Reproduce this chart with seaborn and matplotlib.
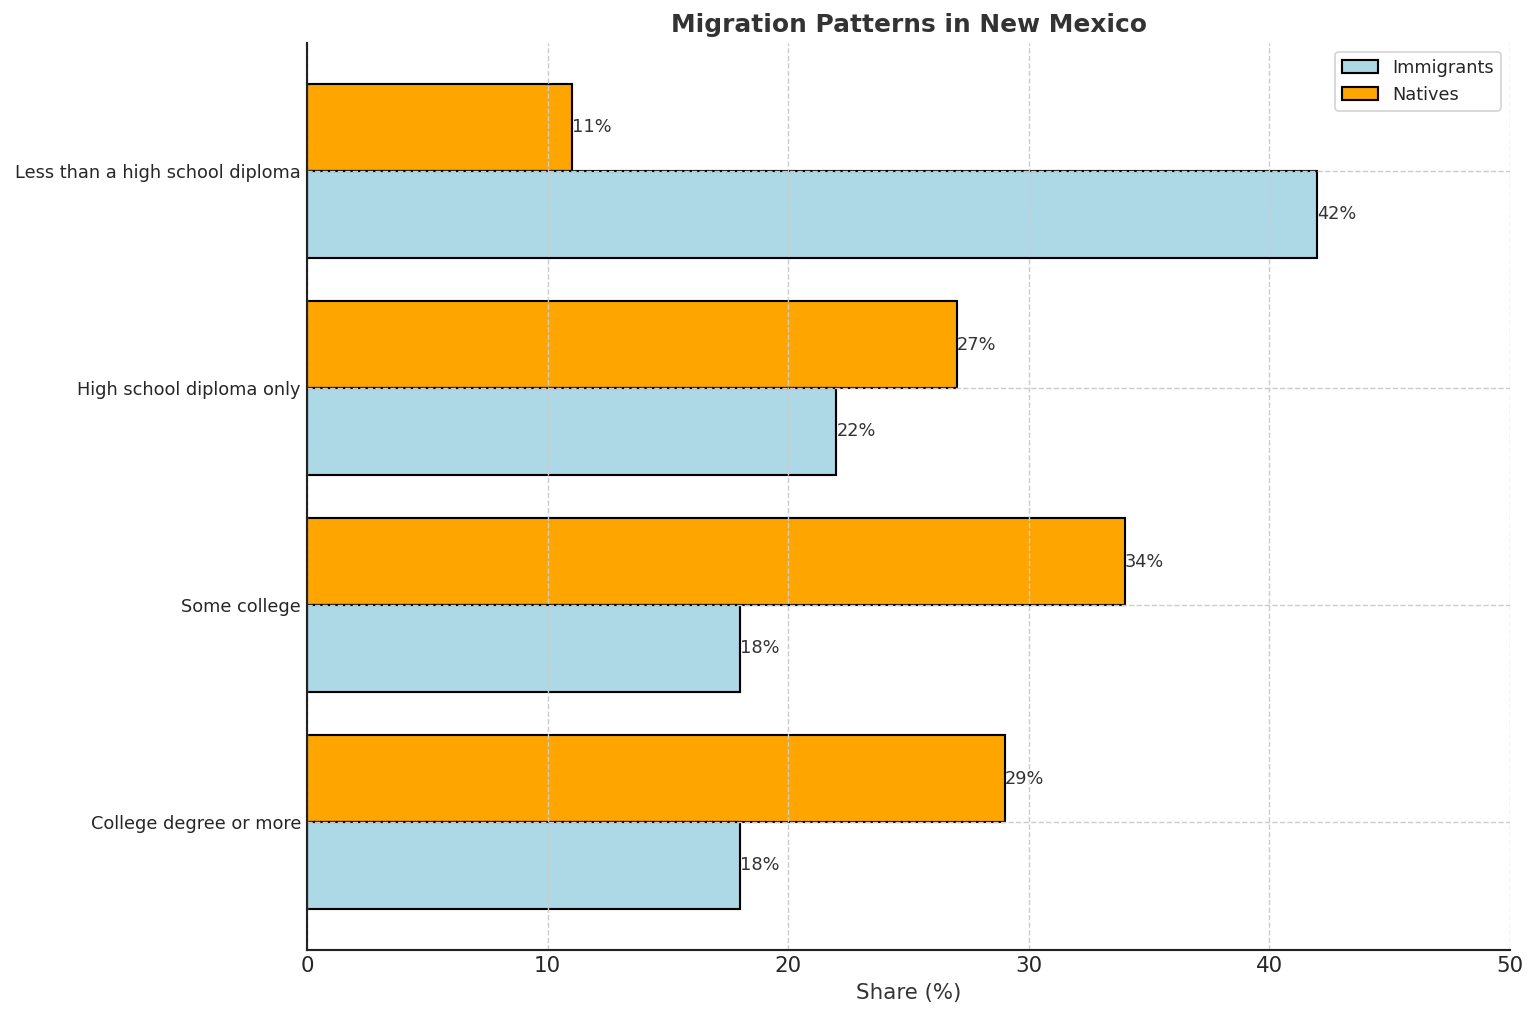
import pandas as pd
import matplotlib
matplotlib.use('Agg')
import matplotlib.pyplot as plt
import seaborn as sns

# Education shares (%) for New Mexico
categories = ['Less than a high school diploma', 'High school diploma only',
              'Some college', 'College degree or more']
immigrants = [42, 22, 18, 18]
natives = [11, 27, 34, 29]

df = pd.DataFrame({
    'Education': categories * 2,
    'Share': immigrants + natives,
    'Group': ['Immigrants'] * len(categories) + ['Natives'] * len(categories),
})

sns.set_style('white')
plt.rcParams['font.family'] = ['DejaVu Sans']

fig, ax = plt.subplots(figsize=(12, 7.96875), dpi=128)

palette = {'Immigrants': '#ADD8E6', 'Natives': '#FFA500'}
sns.barplot(data=df, y='Education', x='Share', hue='Group',
            hue_order=['Natives', 'Immigrants'], order=categories,
            palette=palette, orient='h', width=0.8, edgecolor='black',
            linewidth=1.2, saturation=1, ax=ax)

# Percentage labels at the bar ends
for container in ax.containers:
    ax.bar_label(container, labels=[f'{v:.0f}%' for v in container.datavalues],
                 padding=0, fontsize=10, color='#333333')

ax.set_xlim(0, 50)
ax.set_ylim(3.59, -0.59)
ax.set_title('Migration Patterns in New Mexico', fontsize=14, fontweight='bold',
             color='#333333')
ax.set_xlabel('Share (%)', fontsize=12, color='#333333')
ax.set_ylabel('')
ax.tick_params(axis='x', labelsize=12, length=3, direction='in')
ax.tick_params(axis='y', labelsize=10, length=0)

ax.grid(True, linestyle='--', color='#cccccc', linewidth=0.8)
ax.set_axisbelow(False)

sns.despine(ax=ax)
for side in ['left', 'bottom']:
    ax.spines[side].set_color('#222222')
    ax.spines[side].set_linewidth(1.2)
    ax.spines[side].set_zorder(4)

# Legend with Immigrants first
handles, labels = ax.get_legend_handles_labels()
order = [labels.index('Immigrants'), labels.index('Natives')]
ax.legend([handles[i] for i in order], [labels[i] for i in order],
          loc='upper right', fontsize=10, title=None, frameon=True)

fig.subplots_adjust(left=0.2, right=0.983, top=0.958, bottom=0.0686)
plt.savefig('out.png', dpi=128)
